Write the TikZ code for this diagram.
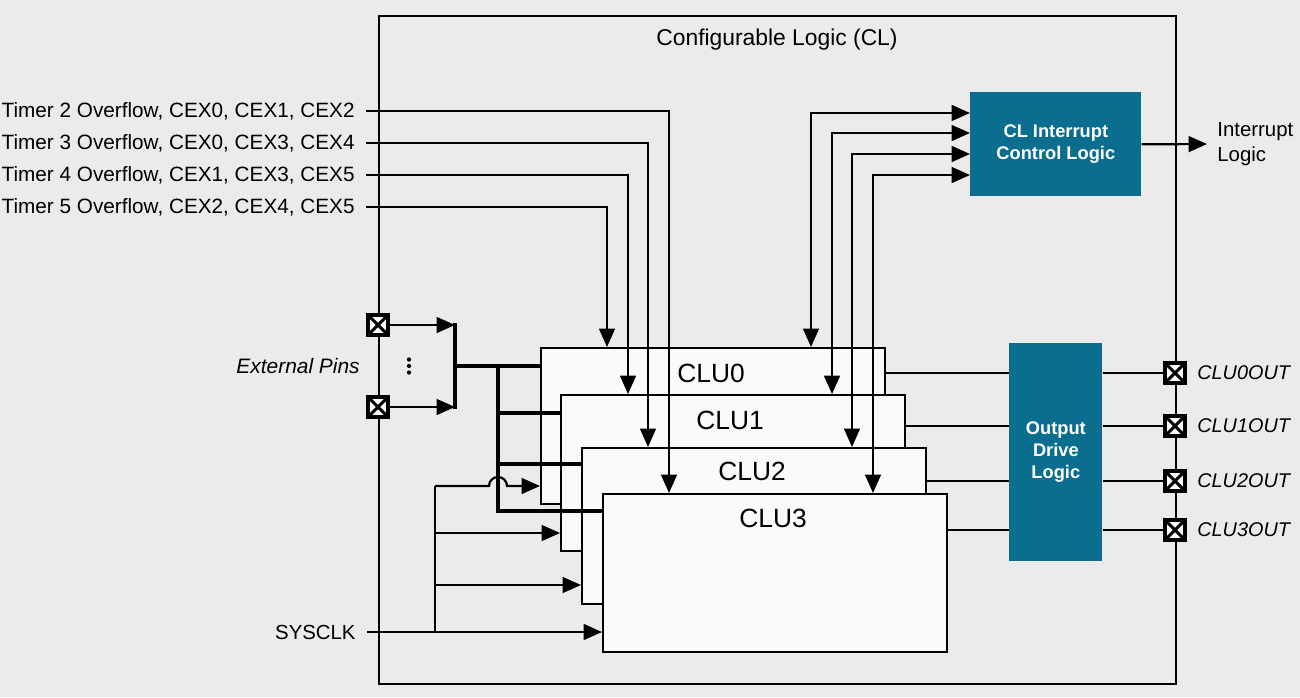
\documentclass[tikz,border=0pt]{standalone}
\usepackage{fontspec}
\setmainfont{Liberation Sans}
\usetikzlibrary{arrows.meta}
\definecolor{bgc}{HTML}{EBEBEB}
\definecolor{tealbox}{HTML}{0B6E8E}
\definecolor{clufill}{HTML}{FAFAFA}
\begin{document}
\begin{tikzpicture}[x=0.02cm,y=-0.02cm,
  font=\fontsize{11.6}{13.9}\selectfont,
  wire/.style={line width=1.25pt},
  bus/.style={line width=2.7pt},
  arr/.style={-{Triangle[length=10.5pt,width=9pt]}},
  biarr/.style={{Triangle[length=10.5pt,width=9pt]}-{Triangle[length=10.5pt,width=9pt]}},
  lbl/.style={inner xsep=6.3pt, inner ysep=0pt},
  clubox/.style={draw, line width=1.25pt, fill=clufill, minimum width=6.88cm, minimum height=3.12cm, anchor=north west, inner sep=0},
  clulbl/.style={font=\fontsize{15}{18}\selectfont},
  tbox/.style={fill=tealbox, text=white, align=center, anchor=north west, inner sep=0,
     font=\bfseries\fontsize{10.4}{12.5}\selectfont},
  padbox/.style={draw, fill=white, line width=1.9pt, minimum size=0.4cm, inner sep=0,
     path picture={\draw[line width=1.7pt] (path picture bounding box.north west) -- (path picture bounding box.south east)
        (path picture bounding box.north east) -- (path picture bounding box.south west);}},
  padlbl/.style={font=\itshape\fontsize{11.3}{13.5}\selectfont, anchor=west, inner sep=0}
]
\fill[bgc] (0,0) rectangle (1300,697);
\useasboundingbox (0,0) rectangle (1300,697);

% outer block
\node[draw, line width=1.25pt, minimum width=15.94cm, minimum height=13.36cm, anchor=north west, inner sep=0] (cl) at (378,15) {};
\node[font=\fontsize{13}{15}\selectfont] (title) at (777,40) {Configurable Logic (CL)};

% CLU stack
\node[clubox] (clu0) at (540,347) {};
\node[clubox] (clu1) at (560,394) {};
\node[clubox] (clu2) at (581,447) {};
\node[clubox, minimum height=3.16cm] (clu3) at (602,493) {};
\node[clulbl] (l0) at (711,373) {CLU0};
\node[clulbl] (l1) at (730,420) {CLU1};
\node[clulbl] (l2) at (752,471) {CLU2};
\node[clulbl] (l3) at (773,518) {CLU3};

% teal blocks
\node[tbox, minimum width=3.42cm, minimum height=2.08cm] (int) at (970,92) {CL Interrupt\\Control Logic};
\node[tbox, minimum width=1.86cm, minimum height=4.36cm] (odl) at (1009,343) {Output\\Drive\\Logic};

% timer inputs
\node[lbl, anchor=east, font=\fontsize{11.8}{14}\selectfont] (t2) at (366,111) {Timer 2 Overflow, CEX0, CEX1, CEX2};
\node[lbl, anchor=east, font=\fontsize{11.8}{14}\selectfont] (t3) at (366,143) {Timer 3 Overflow, CEX0, CEX3, CEX4};
\node[lbl, anchor=east, font=\fontsize{11.8}{14}\selectfont] (t4) at (366,175) {Timer 4 Overflow, CEX1, CEX3, CEX5};
\node[lbl, anchor=east, font=\fontsize{11.8}{14}\selectfont] (t5) at (366,207) {Timer 5 Overflow, CEX2, CEX4, CEX5};
\coordinate (c0t) at (607,347);
\coordinate (c1t) at (628,394);
\coordinate (c2t) at (648,447);
\coordinate (c3t) at (669,493);
\draw[wire,arr] (t2.east) -| (c3t);
\draw[wire,arr] (t3.east) -| (c2t);
\draw[wire,arr] (t4.east) -| (c1t);
\draw[wire,arr] (t5.east) -| (c0t);

% interrupt connections
\coordinate (i0) at (811,347);
\coordinate (i1) at (832,394);
\coordinate (i2) at (852,447);
\coordinate (i3) at (873,493);
\coordinate (ia0) at (970,113);
\coordinate (ia1) at (970,133);
\coordinate (ia2) at (970,154);
\coordinate (ia3) at (970,175);
\draw[wire,biarr] (i0) |- (ia0);
\draw[wire,biarr] (i1) |- (ia1);
\draw[wire,biarr] (i2) |- (ia2);
\draw[wire,biarr] (i3) |- (ia3);
\node[anchor=west, inner xsep=5.7pt, align=left, font=\fontsize{11.6}{14}\selectfont] (intl) at (1207,144) {Interrupt\\Logic};
\draw[wire,arr] (int.east) -- (intl.west);

% outputs
\node[padbox] (p0) at (1175,373) {};
\node[padbox] (p1) at (1175,426) {};
\node[padbox] (p2) at (1175,481) {};
\node[padbox] (p3) at (1175,530) {};
\node[padlbl] (p0l) at (1197,373) {CLU0OUT};
\node[padlbl] (p1l) at (1197,426) {CLU1OUT};
\node[padlbl] (p2l) at (1197,481) {CLU2OUT};
\node[padlbl] (p3l) at (1197,530) {CLU3OUT};
\draw[wire] (clu0.east |- p0) -- (odl.west |- p0);
\draw[wire] (clu1.east |- p1) -- (odl.west |- p1);
\draw[wire] (clu2.east |- p2) -- (odl.west |- p2);
\draw[wire] (clu3.east |- p3) -- (odl.west |- p3);
\draw[wire] (odl.east |- p0) -- (p0.west);
\draw[wire] (odl.east |- p1) -- (p1.west);
\draw[wire] (odl.east |- p2) -- (p2.west);
\draw[wire] (odl.east |- p3) -- (p3.west);

% external pins
\node[padbox] (pa) at (378,325) {};
\node[padbox] (pb) at (378,407) {};
\node[font=\itshape\fontsize{11.9}{14}\selectfont, anchor=east, inner sep=0] (ext) at (360,366) {External Pins};
\foreach \yy in {359.5,366,372.5} \fill (409,\yy) circle (1.2pt);
\coordinate (ba) at (455,323);
\coordinate (bb) at (455,409);
\draw[wire,arr] (pa.east) -- (pa.east -| ba);
\draw[wire,arr] (pb.east) -- (pb.east -| ba);
\draw[bus] (ba) -- (bb);
\coordinate (bj) at (455,366);
\coordinate (bv) at (498,366);
\coordinate (b1) at (498,413);
\coordinate (b2) at (498,464);
\coordinate (b3) at (498,511);
\draw[bus] (bj) -- (clu0.west |- bj);
\draw[bus] (bv) -- (b3) -- (clu3.west |- b3);
\draw[bus] (b1) -- (clu1.west |- b1);
\draw[bus] (b2) -- (clu2.west |- b2);

% SYSCLK
\node[lbl, anchor=east] (sys) at (367,632) {SYSCLK};
\coordinate (s0) at (435,632);
\coordinate (s1) at (435,533);
\coordinate (s2) at (435,585);
\coordinate (s3) at (435,486);
\draw[wire,arr] (sys.east) -- (clu3.west |- sys.east);
\draw[wire] (s0) -- (s3);
\draw[wire,arr] (s3) -- (489,486) arc (180:360:9) -- (clu0.west |- s3);
\draw[wire,arr] (s1) -- (clu1.west |- s1);
\draw[wire,arr] (s2) -- (clu2.west |- s2);
\end{tikzpicture}
\end{document}
